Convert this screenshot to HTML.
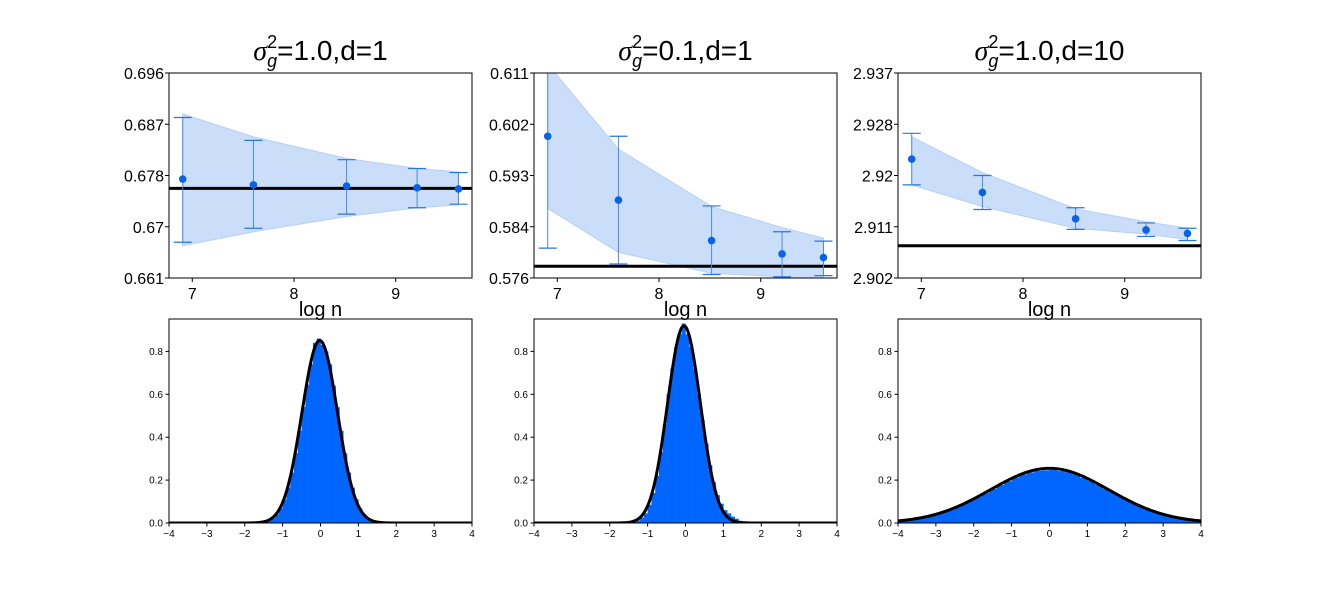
<!DOCTYPE html>
<html><head><meta charset="utf-8"><style>
html,body{margin:0;padding:0;background:#fff}
svg{display:block;font-family:"Liberation Sans","DejaVu Sans",sans-serif}
</style></head><body>
<svg id="fig" width="1335" height="603" viewBox="0 0 1335 603" xmlns="http://www.w3.org/2000/svg">
<rect width="1335" height="603" fill="#fff"/>
</svg>
<script>
// ---- data ----
const logN = [6.906, 7.601, 8.517, 9.210, 9.617];
const titles = [["1.0","1"],["0.1","1"],["1.0","10"]];
const yRanges = [[0.661,0.696],[0.576,0.611],[2.902,2.937]];
const yTickLabels = [["0.661","0.67","0.678","0.687","0.696"],["0.576","0.584","0.593","0.602","0.611"],["2.902","2.911","2.92","2.928","2.937"]];
const xTickValues = [7,8,9];
const means1 = [0.6779,0.6769,0.6767,0.6764,0.6762];
const errHi1 = [0.6884,0.6845,0.6812,0.6797,0.6790];
const errLo1 = [0.6671,0.6695,0.6719,0.6730,0.6736];
const bandHi1 = [0.6890,0.6851,0.6814,0.6797,0.6791];
const bandLo1 = [0.6665,0.6689,0.6715,0.6730,0.6735];
const truth1 = 0.6763;
const means2 = [0.6002,0.5893,0.5824,0.5801,0.5795];
const errHi2 = [0.6193,0.6002,0.5883,0.5839,0.5823];
const errLo2 = [0.5811,0.5784,0.5766,0.5762,0.5764];
const bandHi2 = [0.6125,0.5980,0.5882,0.5846,0.5828];
const bandLo2 = [0.5879,0.5804,0.5768,0.5762,0.5755];
const truth2 = 0.5780;
const means3 = [2.9223,2.9166,2.9121,2.9102,2.9096];
const errHi3 = [2.9267,2.9195,2.9140,2.9114,2.9105];
const errLo3 = [2.9179,2.9137,2.9103,2.9091,2.9084];
const bandHi3 = [2.9261,2.9200,2.9138,2.9116,2.9105];
const bandLo3 = [2.9179,2.9142,2.9105,2.9095,2.9086];
const truth3 = 2.9075;
// histograms
const histStart = [-1.5,-1.5,-4.0];
const histWidth = [0.1,0.1,0.2];
const hist1 = [0.005,0.012,0.022,0.04,0.068,0.11,0.165,0.235,0.325,0.43,0.54,0.645,0.74,0.84,0.86,0.83,0.80,0.74,0.64,0.54,0.43,0.325,0.235,0.165,0.11,0.068,0.04,0.022,0.012,0.005];
const hist2 = [0.003,0.006,0.012,0.025,0.045,0.085,0.14,0.22,0.33,0.46,0.60,0.72,0.82,0.88,0.93,0.88,0.82,0.72,0.60,0.48,0.37,0.27,0.19,0.13,0.09,0.06,0.045,0.03,0.02,0.01,0.006,0.003];
const hist3 = [0.013,0.017,0.022,0.029,0.037,0.047,0.058,0.071,0.086,0.103,0.121,0.139,0.158,0.177,0.195,0.212,0.226,0.236,0.243,0.246,0.247,0.242,0.237,0.227,0.211,0.196,0.178,0.159,0.140,0.122,0.104,0.087,0.072,0.059,0.048,0.038,0.030,0.023,0.018,0.014];
const curveMean = [-0.02,-0.04,0.0];
const curveSd = [0.469,0.434,1.565];
const histXTicks = [-4,-3,-2,-1,0,1,2,3,4];
const histYTicks = ["0.0","0.2","0.4","0.6","0.8"];

const svg = document.getElementById('fig');
const NS = 'http://www.w3.org/2000/svg';
function mk(tag, attrs, parent){const e=document.createElementNS(NS,tag);for(const k in attrs)e.setAttribute(k,attrs[k]);(parent||svg).appendChild(e);return e;}

const panelX = [169,534,898];
const PW = 303;
const topY0 = 73, topY1 = 278;
const botY0 = 319, botY1 = 523;
const means=[means1,means2,means3], errHi=[errHi1,errHi2,errHi3], errLo=[errLo1,errLo2,errLo3];
const bandHi=[bandHi1,bandHi2,bandHi3], bandLo=[bandLo1,bandLo2,bandLo3], truths=[truth1,truth2,truth3];
const hists=[hist1,hist2,hist3];

for(let p=0;p<3;p++){
  const x0=panelX[p], x1=x0+PW;
  const xs = v => x0 + (v-6.771)/(9.750-6.771)*PW;
  const [ymin,ymax]=yRanges[p];
  const ys = v => topY1 - (v-ymin)/(ymax-ymin)*(topY1-topY0);
  const defs = mk('defs',{});
  const cp = mk('clipPath',{id:'clipT'+p},defs);
  mk('rect',{x:x0,y:topY0,width:PW,height:topY1-topY0},cp);
  const g = mk('g',{'clip-path':'url(#clipT'+p+')'});
  
  
  let pts=[];
  for(let i=0;i<logN.length;i++) pts.push(xs(logN[i])+','+ys(bandHi[p][i]));
  for(let i=logN.length-1;i>=0;i--) pts.push(xs(logN[i])+','+ys(bandLo[p][i]));
  const band = mk('polygon',{points:pts.join(' '),fill:'#cadef9',stroke:'#b4d0f5','stroke-width':1},g);
  
  
  const tl = mk('line',{x1:x0,x2:x1,y1:ys(truths[p]),y2:ys(truths[p]),stroke:'#000','stroke-width':3},g);
  
  
  for(let i=0;i<logN.length;i++){
    const cx=xs(logN[i]);
    const eb = mk('g',{},g);
    
    
    mk('line',{x1:cx,x2:cx,y1:ys(errHi[p][i]),y2:ys(errLo[p][i]),stroke:'#4a8ae6','stroke-width':1},eb);
    mk('line',{x1:cx-9,x2:cx+9,y1:ys(errHi[p][i]),y2:ys(errHi[p][i]),stroke:'#2a74df','stroke-width':1.2},eb);
    mk('line',{x1:cx-9,x2:cx+9,y1:ys(errLo[p][i]),y2:ys(errLo[p][i]),stroke:'#2a74df','stroke-width':1.2},eb);
    const d = mk('circle',{cx:cx,cy:ys(means[p][i]),r:3.8,fill:'#0a62e8'},g);
    
    
  }
  const fr = mk('rect',{x:x0,y:topY0,width:PW,height:topY1-topY0,fill:'none',stroke:'#000','stroke-width':1});
  
  
  for(let k=0;k<5;k++){
    const yy = topY1 - k/4*(topY1-topY0);
    mk('line',{x1:x0-4,x2:x0,y1:yy,y2:yy,stroke:'#000','stroke-width':1});
    const t = mk('text',{x:x0-5,y:yy+6,'text-anchor':'end','font-size':16,fill:'#000'});
    t.textContent = yTickLabels[p][k];
    
    
  }
  for(const v of xTickValues){
    const xx=xs(v);
    mk('line',{x1:xx,x2:xx,y1:topY1,y2:topY1+4,stroke:'#000','stroke-width':1});
    const t = mk('text',{x:xx,y:topY1+21,'text-anchor':'middle','font-size':16,fill:'#000'});
    t.textContent = String(v);
    
    
  }
  const xl = mk('text',{x:x0+PW/2,y:316,'text-anchor':'middle','font-size':20,fill:'#000'});
  xl.textContent='log n';
  
  
  const tt = mk('text',{x:x0+PW/2,y:60,'text-anchor':'middle','font-size':28,fill:'#000'});
  
  
  const s1 = mk('tspan',{'font-style':'italic','font-family':'"Liberation Serif","DejaVu Serif",serif'},tt); s1.textContent='σ';
  const s2 = mk('tspan',{'font-size':18,dy:-12},tt); s2.textContent='2';
  const s3 = mk('tspan',{'font-size':18,'font-style':'italic',dx:-10,dy:19},tt); s3.textContent='g';
  const s4 = mk('tspan',{dy:-7},tt); s4.textContent='='+titles[p][0]+',d='+titles[p][1];

  const hx = v => x0 + (v+4)/8*PW;
  const hy = v => botY1 - v/0.951*(botY1-botY0);
  const cp2 = mk('clipPath',{id:'clipB'+p},defs);
  mk('rect',{x:x0,y:botY0,width:PW,height:botY1-botY0},cp2);
  const g2 = mk('g',{'clip-path':'url(#clipB'+p+')'});
  
  
  mk('rect',{x:x0,y:hy(0.004),width:PW,height:hy(0)-hy(0.004),fill:'#0066ff'},g2);
  const h=hists[p];
  for(let i=0;i<h.length;i++){
    const a=histStart[p]+i*histWidth[p];
    const b=mk('rect',{x:hx(a),y:hy(h[i]),width:hx(a+histWidth[p])-hx(a)+0.3,height:hy(0)-hy(h[i]),fill:'#0066ff'},g2);
    
    
  }
  let d='';
  for(let k=0;k<=400;k++){
    const xv=-4+8*k/400;
    const m=curveMean[p], s=curveSd[p];
    const yv=Math.exp(-(xv-m)*(xv-m)/(2*s*s))/(s*Math.sqrt(2*Math.PI));
    d+=(k?'L':'M')+hx(xv).toFixed(2)+','+hy(yv).toFixed(2);
  }
  const cv = mk('path',{d:d,fill:'none',stroke:'#000','stroke-width':3},g2);
  
  
  const fr2 = mk('rect',{x:x0,y:botY0,width:PW,height:botY1-botY0,fill:'none',stroke:'#000','stroke-width':1});
  
  
  for(const v of histXTicks){
    const xx=hx(v);
    mk('line',{x1:xx,x2:xx,y1:botY1,y2:botY1+3.5,stroke:'#000','stroke-width':1});
    const t=mk('text',{x:xx,y:botY1+14,'text-anchor':'middle','font-size':10,fill:'#000'});
    t.textContent = v<0 ? '\u2212'+(-v) : String(v);
    
    
  }
  for(let k=0;k<histYTicks.length;k++){
    const yy=hy(parseFloat(histYTicks[k]));
    mk('line',{x1:x0-3.5,x2:x0,y1:yy,y2:yy,stroke:'#000','stroke-width':1});
    const t=mk('text',{x:x0-6,y:yy+3.5,'text-anchor':'end','font-size':10,fill:'#000'});
    t.textContent = histYTicks[k];
    
    
  }
}
</script>
</body></html>
